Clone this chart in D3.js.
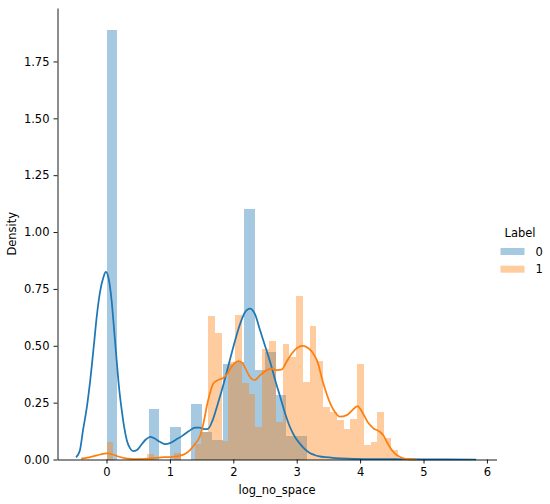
<!DOCTYPE html>
<html>
<head>
<meta charset="utf-8">
<script src="https://cdn.jsdelivr.net/npm/d3@7"></script>
<style>
  body { margin: 0; background: #fff; }
  svg text { font-family: "DejaVu Sans", sans-serif; }
</style>
</head>
<body>
<svg id="chart" width="550" height="504"></svg>
<script>
// histogram densities (bins start at 0)
var labels = ["0", "1"];
var blueBinWidth = 0.1668;
var blueDensity = [1.89, 0, 0, 0, 0.221, 0, 0.144, 0, 0.242, 0.12, 0.085, 0.418,
                   0.43, 1.1, 0.393, 0.473, 0.283, 0.103, 0.103];
var orangeBinWidth = 0.1068;
var orangeDensity = [0.075, 0, 0, 0, 0, 0, 0.024, 0, 0, 0, 0.03, 0, 0, 0.068,
                     0.122, 0.632, 0.556, 0.08, 0.43, 0.635, 0.335, 0.29, 0.144,
                     0.488, 0.521, 0.166, 0.507, 0.45, 0.721, 0.341, 0.585, 0.432,
                     0.232, 0.21, 0.172, 0.132, 0.176, 0.419, 0.064, 0.078, 0.207,
                     0.093, 0.042];

// kde curves, points
var blueKdeX = [-0.48, -0.42, -0.37, -0.31, -0.26, -0.2, -0.155, -0.1, -0.05, -0.01,
                0.03, 0.08, 0.12, 0.16, 0.2, 0.24, 0.28, 0.32, 0.37, 0.42, 0.48, 0.55,
                0.62, 0.69, 0.76, 0.84, 0.92, 1.0, 1.1, 1.2, 1.3, 1.4, 1.47, 1.54, 1.6,
                1.67, 1.75, 1.84, 1.92, 2.0, 2.1, 2.18, 2.26, 2.34, 2.42, 2.5, 2.58,
                2.66, 2.74, 2.82, 2.89, 2.97, 3.05, 3.12, 3.2, 3.28, 3.36, 3.46, 3.57,
                3.7, 3.9, 4.2, 4.6, 5.0, 5.4, 5.83];
var blueKdeY = [0.01, 0.04, 0.13, 0.23, 0.34, 0.5, 0.626, 0.74, 0.8, 0.825,
                0.8, 0.7, 0.57, 0.436, 0.31, 0.217, 0.14, 0.085, 0.05, 0.037, 0.042, 0.065,
                0.088, 0.1, 0.092, 0.078, 0.068, 0.072, 0.088, 0.105, 0.125, 0.14, 0.14, 0.134, 0.135,
                0.17, 0.24, 0.325, 0.41, 0.495, 0.59, 0.645, 0.663, 0.64, 0.57, 0.5, 0.43,
                0.35, 0.275, 0.2, 0.145, 0.1, 0.07, 0.048, 0.03, 0.02, 0.014, 0.01, 0.007,
                0.005, 0.003, 0.002, 0.0015, 0.001, 0.001, 0.0];
var orangeKdeX = [-0.4, -0.3, -0.2, -0.1, 0.0, 0.1, 0.2, 0.3, 0.45, 0.6, 0.75, 0.9,
                  1.05, 1.15, 1.25, 1.32, 1.4, 1.47, 1.53, 1.58, 1.63, 1.685, 1.76, 1.84,
                  1.9, 1.97, 2.03, 2.08, 2.14, 2.2, 2.27, 2.34, 2.42, 2.53, 2.6, 2.68,
                  2.76, 2.84, 2.92, 3.03, 3.1, 3.18, 3.25, 3.32, 3.42, 3.53, 3.6, 3.68,
                  3.79, 3.87, 3.96, 4.05, 4.13, 4.21, 4.31, 4.37, 4.42, 4.52, 4.6, 4.68,
                  4.78, 4.9];
var orangeKdeY = [0.004, 0.008, 0.015, 0.022, 0.027, 0.022, 0.012, 0.005, 0.002, 0.003, 0.006, 0.01,
                  0.012, 0.016, 0.026, 0.042, 0.07, 0.1, 0.16, 0.232, 0.29, 0.334, 0.35, 0.358,
                  0.375, 0.407, 0.425, 0.432, 0.425, 0.395, 0.36, 0.349, 0.37, 0.393, 0.4, 0.393,
                  0.395, 0.43, 0.465, 0.495, 0.5, 0.49, 0.47, 0.436, 0.334, 0.246, 0.21, 0.188,
                  0.195, 0.215, 0.235, 0.2, 0.16, 0.137, 0.122, 0.105, 0.078, 0.034, 0.015, 0.005,
                  0.001, 0.0];

var xTicks = [0, 1, 2, 3, 4, 5, 6];
var yTicks = [0, 0.25, 0.5, 0.75, 1.0, 1.25, 1.5, 1.75];

var colors = ["#1f77b4", "#ff7f0e"];

(function(){
	var svg = d3.select('#chart');
	var mLeft = 57.5, mRight = 496.5, mTop = 8, mBottom = 459.5;

	var x = d3.scaleLinear().domain([-0.773, 6.151]).range([mLeft, mRight]);
	var y = d3.scaleLinear().domain([0, 1.985]).range([mBottom, mTop]);

	function toBins(dens, w){
		return dens.map(function(d, i){ return {x0: i * w, x1: (i + 1) * w, v: d}; })
			.filter(function(b){ return b.v > 0; });
	}

	var series = [
		{bins: toBins(blueDensity, blueBinWidth), kx: blueKdeX, ky: blueKdeY, color: colors[0]},
		{bins: toBins(orangeDensity, orangeBinWidth), kx: orangeKdeX, ky: orangeKdeY, color: colors[1]}
	];

	// bars
	series.forEach(function(s){
		svg.append('g').attr('shape-rendering', 'crispEdges')
			.selectAll('rect')
			.data(s.bins)
			.enter()
			.append('rect')
				.attr('x', function(d){ return x(d.x0); })
				.attr('y', function(d){ return y(d.v); })
				.attr('width', function(d){ return x(d.x1) - x(d.x0); })
				.attr('height', function(d){ return y(0) - y(d.v); })
				.attr('fill', s.color)
				.attr('fill-opacity', 0.4);
	});

	// kde lines
	var line = d3.line()
		.x(function(d){ return x(d[0]); })
		.y(function(d){ return y(d[1]); })
		.curve(d3.curveMonotoneX);

	series.forEach(function(s){
		svg.append('path')
			.datum(d3.zip(s.kx, s.ky))
			.attr('d', line)
			.attr('fill', 'none')
			.attr('stroke', s.color)
			.attr('stroke-width', 1.75);
	});

	// axes
	var xAxis = svg.append('g')
		.attr('transform', 'translate(0,' + mBottom + ')')
		.call(d3.axisBottom(x).tickValues(xTicks).tickFormat(d3.format('d'))
			.tickSize(4).tickSizeOuter(0).tickPadding(4));
	var yAxis = svg.append('g')
		.attr('transform', 'translate(' + mLeft + ',0)')
		.call(d3.axisLeft(y).tickValues(yTicks).tickFormat(d3.format('.2f'))
			.tickSize(4).tickSizeOuter(0).tickPadding(4));

	[xAxis, yAxis].forEach(function(a){
		a.selectAll('text').attr('font-size', '11.5px').attr('fill', '#000')
			.attr('font-family', '"DejaVu Sans", sans-serif');
		a.selectAll('line').attr('stroke', '#000').attr('stroke-width', 0.9);
		a.select('.domain').attr('stroke', '#000').attr('stroke-width', 0.9);
	});

	svg.append('text')
		.attr('x', (mLeft + mRight) / 2)
		.attr('y', 494)
		.attr('text-anchor', 'middle')
		.attr('font-size', '11.5px')
		.text('log_no_space');

	svg.append('text')
		.attr('transform', 'translate(16,' + ((mTop + mBottom) / 2) + ') rotate(-90)')
		.attr('text-anchor', 'middle')
		.attr('font-size', '11.5px')
		.text('Density');

	// legend
	var legend = svg.append('g').attr('transform', 'translate(500.5,0)');
	legend.append('text')
		.attr('x', 19.5)
		.attr('y', 237)
		.attr('text-anchor', 'middle')
		.attr('font-size', '11.5px')
		.text('Label');

	legend.selectAll('rect.key')
		.data(labels)
		.enter()
		.append('rect')
			.attr('class', 'key')
			.attr('x', 0)
			.attr('y', function(d, i){ return 248 + i * 17.7; })
			.attr('width', 24)
			.attr('height', 7)
			.attr('fill', function(d, i){ return colors[i]; })
			.attr('fill-opacity', 0.4);

	legend.selectAll('text.key')
		.data(labels)
		.enter()
		.append('text')
			.attr('class', 'key')
			.attr('x', 35)
			.attr('y', function(d, i){ return 255.7 + i * 17.7; })
			.attr('font-size', '11.5px')
			.text(function(d){ return d; });
})();
</script>
</body>
</html>
